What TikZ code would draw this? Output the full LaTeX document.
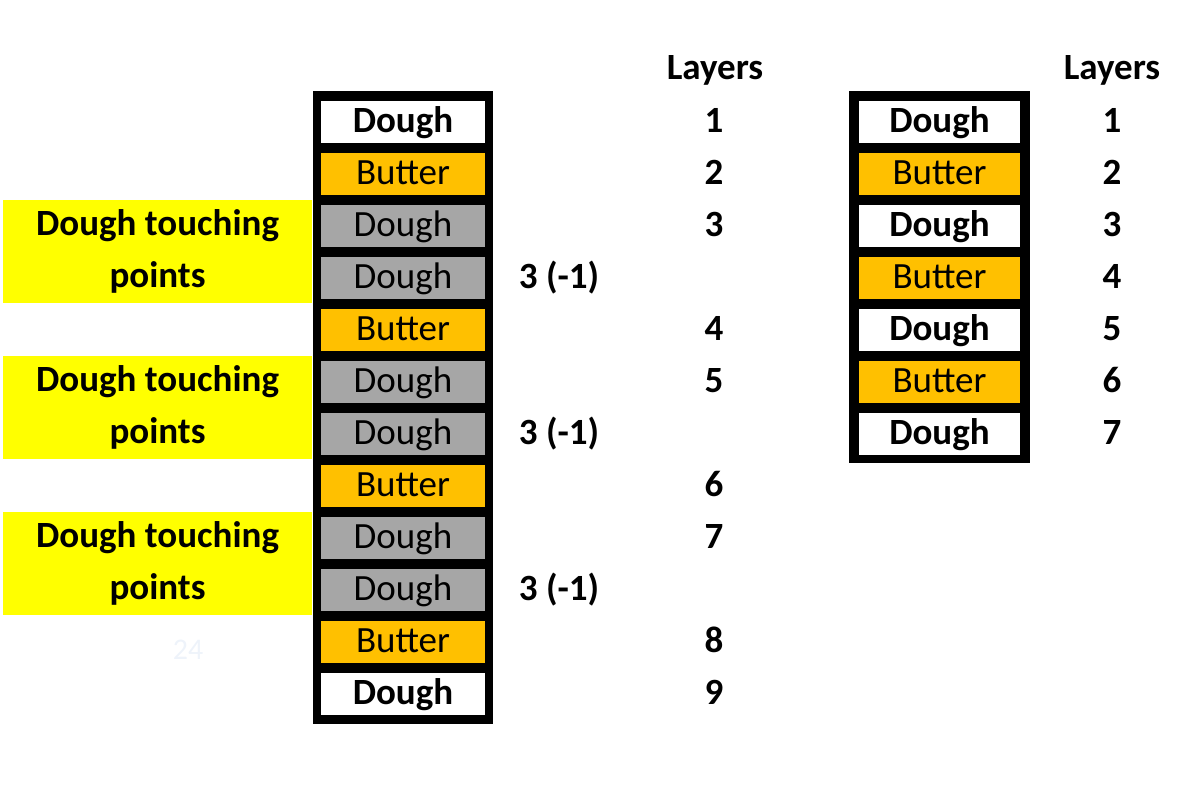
\documentclass[tikz,border=0pt]{standalone}
\usepackage{fontspec}
\setmainfont{Carlito}
\usepackage{xcolor}
\usepackage{tikz}
\usetikzlibrary{positioning}

\definecolor{butter}{HTML}{FFC000}
\definecolor{greydough}{HTML}{A6A6A6}
\definecolor{touch}{HTML}{FFFF00}
\definecolor{faint}{HTML}{EEF3FA}

\begin{document}
\begin{tikzpicture}[
        x=1pt, y=-1pt,
        every node/.style={font=\fontsize{37}{44}\selectfont},
        stack/.style={fill=black, inner sep=0pt},
        cell/.style={inner sep=0pt, minimum width=164pt, minimum height=42pt,
            text height=27pt, text depth=6pt},
        white/.style={cell, fill=white, font=\fontsize{37}{44}\selectfont\bfseries},
        butter/.style={cell, fill=butter},
        greydough/.style={cell, fill=greydough},
        layer/.style={font=\fontsize{37}{44}\selectfont\bfseries, text height=27pt, text depth=6pt},
        touchbox/.style={fill=touch, inner sep=0pt, minimum width=309pt, minimum height=103pt,
            align=center, font=\fontsize{37}{52}\selectfont\bfseries}
      ]
      \useasboundingbox (0,0) rectangle (1200,800);

      % touching points
      \foreach \row [count=\k] in {2,5,8}
      \node[touchbox] (touch\k) at (157.5,147.7+52*\row) {Dough touching\\points};

      % left stack
      \node[stack, minimum width=180pt, minimum height=633pt] (lstack) at (403,407.5) {};
      \foreach \kind/\word [count=\i from 0] in {white/Dough, butter/Butter, greydough/Dough,
          greydough/Dough, butter/Butter, greydough/Dough, greydough/Dough, butter/Butter,
          greydough/Dough, greydough/Dough, butter/Butter, white/Dough}
      \node[\kind] (L\i) at (403,121.7+52*\i) {\word};

      % right stack
      \node[stack, minimum width=181pt, minimum height=372pt] (rstack) at (939.7,277) {};
      \foreach \kind/\word [count=\i from 0] in {white/Dough, butter/Butter, white/Dough,
          butter/Butter, white/Dough, butter/Butter, white/Dough}
      \node[\kind, minimum width=161pt] (R\i) at (939.5,121.7+52*\i) {\word};

      % layer counts
      \node[layer] (lhead) at (715,69) {Layers};
      \foreach \row/\num in {0/1, 1/2, 2/3, 4/4, 5/5, 7/6, 8/7, 10/8, 11/9}
      \node[layer] (lnum\num) at (714,121.7+52*\row) {\num};

      \node[layer] (rhead) at (1112,69) {Layers};
      \foreach \num [count=\row from 0] in {1,...,7}
      \node[layer] (rnum\num) at (1112,121.7+52*\row) {\num};

      % lost layers
      \foreach \row [count=\k] in {3,6,9}
      \node[layer] (lost\k) at (559,121.7+52*\row) {3 (-1)};

      \node[text=faint, font=\fontsize{30}{36}\selectfont] (page) at (188,650) {24};
    \end{tikzpicture}
\end{document}
